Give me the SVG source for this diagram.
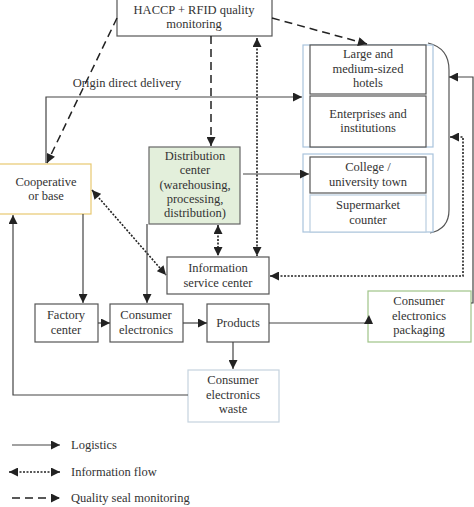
<svg xmlns="http://www.w3.org/2000/svg" width="474" height="507" viewBox="0 0 474 507">
<defs>
<style>
text{font-family:"Liberation Serif","Times New Roman",serif;font-size:12.5px;fill:#333;text-anchor:middle}
.lg{text-anchor:start}
.box{fill:#fff;stroke:#555;stroke-width:1.2}
.ln{fill:none;stroke:#444;stroke-width:1.2}
.da{fill:none;stroke:#222;stroke-width:1.5;stroke-dasharray:8 5}
.dt{fill:none;stroke:#222;stroke-width:1.6;stroke-dasharray:2 1.5}
.grp{fill:#fff;stroke:#a9c3dd;stroke-width:1.2}
</style>
<marker id="ah" viewBox="0 0 10 10" refX="10" refY="5" markerWidth="10" markerHeight="9" markerUnits="userSpaceOnUse" orient="auto-start-reverse">
<path d="M0,0 L10,5 L0,10 z" fill="#222"/>
</marker>
</defs>
<rect width="474" height="507" fill="#fff"/>

<g id="haccp"><rect class="box" x="117" y="-1" width="155" height="37"/><text x="194" y="14">HACCP + RFID quality</text><text x="194" y="28">monitoring</text></g>

<g id="cooperative"><rect x="-1" y="164" width="92" height="50" fill="#fff" stroke="#e8c870" stroke-width="1.2"/><text x="46" y="186">Cooperative</text><text x="46" y="200">or base</text></g>

<g id="distribution"><rect x="149" y="147" width="91" height="77" fill="#e3efdb" stroke="#666" stroke-width="1.2"/><text x="195" y="160">Distribution</text><text x="195" y="174">center</text><text x="195" y="189">(warehousing,</text><text x="195" y="203">processing,</text><text x="195" y="217">distribution)</text></g>

<g id="info"><rect class="box" x="167" y="257" width="102" height="37"/><text x="218" y="272">Information</text><text x="218" y="287">service center</text></g>

<g id="factory"><rect class="box" x="35" y="304" width="63" height="38"/><text x="66" y="319">Factory</text><text x="66" y="334">center</text></g>

<g id="consumer-electronics"><rect class="box" x="110" y="304" width="73" height="38"/><text x="146" y="319">Consumer</text><text x="146" y="334">electronics</text></g>

<g id="products"><rect class="box" x="207" y="304" width="62" height="38"/><text x="238" y="327">Products</text></g>

<g id="packaging"><rect x="368" y="291" width="103" height="51" fill="#fff" stroke="#9fc488" stroke-width="1.2"/><text x="419" y="305">Consumer</text><text x="419" y="320">electronics</text><text x="419" y="334">packaging</text></g>

<g id="waste"><rect x="188" y="370" width="91" height="52" fill="#fff" stroke="#c5d3de" stroke-width="1.2"/><text x="233" y="384">Consumer</text><text x="233" y="399">electronics</text><text x="233" y="413">waste</text></g>

<g id="consumers">
<path d="M428,43 Q449,48 449,70 L449,210 Q449,229 430,233" fill="none" stroke="#555" stroke-width="1.2"/>
<rect class="grp" x="303" y="45" width="130" height="102"/>
<rect class="grp" x="303" y="154" width="130" height="78"/>
<g id="hotels"><rect class="box" x="310" y="45" width="116" height="49"/><text x="368" y="58">Large and</text><text x="368" y="73">medium-sized</text><text x="368" y="87">hotels</text></g>
<g id="enterprises"><rect class="box" x="310" y="96" width="116" height="51"/><text x="368" y="118">Enterprises and</text><text x="368" y="132">institutions</text></g>
<g id="college"><rect class="box" x="310" y="157" width="116" height="36"/><text x="368" y="171">College /</text><text x="368" y="186">university town</text></g>
<g id="supermarket"><rect x="310" y="195" width="116" height="37" fill="#fff" stroke="#b9cde0" stroke-width="1.2"/><text x="368" y="209">Supermarket</text><text x="368" y="224">counter</text></g>
</g>

<g id="connectors">
<path class="da" d="M117,18 L47,163" marker-end="url(#ah)"/>
<path class="da" d="M211,36 L211,146" marker-end="url(#ah)"/>
<path class="da" d="M272,18 L367,44" marker-end="url(#ah)"/>
<path class="dt" d="M257,38 L257,256" marker-start="url(#ah)" marker-end="url(#ah)"/>
<path class="dt" d="M218,225 L218,256" marker-start="url(#ah)" marker-end="url(#ah)"/>
<path class="dt" d="M92,190 L166,275" marker-start="url(#ah)" marker-end="url(#ah)"/>
<path class="dt" d="M450,137 L463,137 L463,276 L270,276" marker-start="url(#ah)" marker-end="url(#ah)"/>
<path class="ln" d="M46,163 L46,97 L302,97" marker-end="url(#ah)"/>
<text x="127" y="87">Origin direct delivery</text>
<path class="ln" d="M243,174 L309,174" marker-end="url(#ah)"/>
<path class="ln" d="M147,224 L147,303" marker-end="url(#ah)"/>
<path class="ln" d="M83,214 L83,303" marker-end="url(#ah)"/>
<path class="ln" d="M98,323 L110,323" marker-end="url(#ah)"/>
<path class="ln" d="M183,323 L207,323" marker-end="url(#ah)"/>
<path class="ln" d="M269,323 L368,323"/>
<path d="M364,324 L369,315 L373,324 z" fill="#222"/>
<path class="ln" d="M233,342 L233,369" marker-end="url(#ah)"/>
<path class="ln" d="M188,395 L13,395 L13,215" marker-end="url(#ah)"/>
<path class="ln" d="M471,303 L473,303 L473,77 L449,77" marker-end="url(#ah)"/>
</g>

<g id="legend">
<path class="ln" d="M12,445 L60,445" marker-end="url(#ah)"/>
<text class="lg" x="71" y="449">Logistics</text>
<path class="dt" d="M9,472 L60,472" marker-start="url(#ah)" marker-end="url(#ah)"/>
<text class="lg" x="71" y="476">Information flow</text>
<path class="da" d="M12,498 L60,498" marker-end="url(#ah)"/>
<text class="lg" x="71" y="502">Quality seal monitoring</text>
</g>
</svg>
